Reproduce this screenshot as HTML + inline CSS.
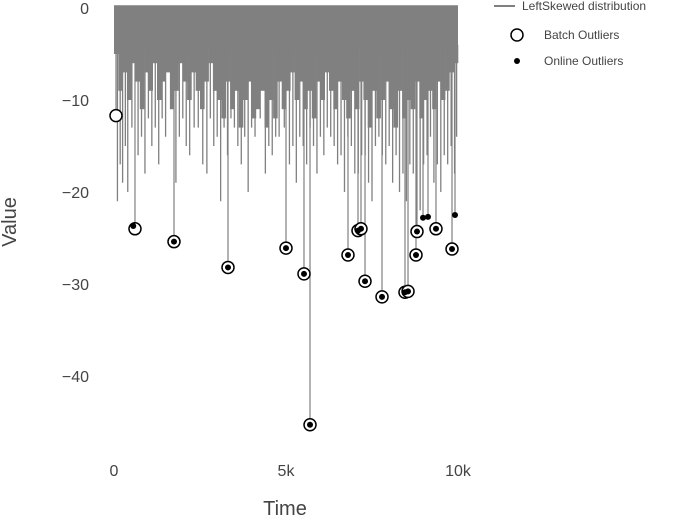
<!DOCTYPE html>
<html><head><meta charset="utf-8"><style>
body{margin:0;background:#fff;font-family:"Liberation Sans",sans-serif}
svg text{font-family:"Liberation Sans",sans-serif;fill:#444}
</style></head><body>
<svg id="chart" width="685" height="516" viewBox="0 0 685 516" xmlns="http://www.w3.org/2000/svg">
<g id="series"></g>
<g id="axes"></g>
<g id="legend"></g>
</svg>
<script>
// data
const xTicks=[0,5000,10000];
const xTickLabels=["0","5k","10k"];
const yTicks=[0,-10,-20,-30,-40];
const yTickLabels=["0","−10","−20","−30","−40"];
// dense band depth per 125-step bin (approx)
const bandDepth=[-5,-9,-7,-10,-6,-8,-11,-7,-9,-6,-10,-8,-7,-11,-9,-6,-8,-10,-7,-9,-11,-8,-6,-9,-10,-12,-8,-11,-9,-13,-10,-8,-12,-11,-9,-13,-10,-12,-8,-11,-9,-7,-10,-8,-11,-9,-12,-8,-10,-7,-9,-11,-8,-10,-12,-9,-11,-8,-10,-13,-9,-12,-10,-8,-11,-13,-9,-12,-10,-11,-8,-12,-10,-9,-11,-8,-10,-9,-7,-6];
// spike lines (time, value)
const spikeT=[100,180,250,330,400,520,700,800,900,1000,1100,1200,1300,1400,1500,1650,1800,1900,2000,2100,2200,2330,2450,2580,2700,2800,2900,3000,3100,3200,3300,3400,3500,3600,3700,3800,3900,4000,4100,4250,4400,4500,4600,4700,4800,4950,5100,5200,5300,5400,5500,5600,5700,5800,5900,6000,6100,6200,6300,6400,6500,6600,6700,6800,6900,7000,7100,7200,7300,7400,7500,7600,7700,7800,7900,8000,8100,8200,8300,8400,8500,8600,8700,8800,8900,9000,9100,9200,9300,9400,9500,9600,9700,9800,9900,9960];
const spikeV=[-21,-17,-19,-15,-20,-13,-16,-14,-18,-12,-15,-13,-17,-12,-14,-11,-19,-14,-12,-15,-16,-13,-13,-17,-18,-12,-15,-14,-21,-13,-16,-12,-13,-15,-17,-14,-20,-13,-14,-12,-18,-15,-16,-14,-14,-13,-17,-15,-19,-14,-15,-17,-13,-15,-18,-14,-16,-13,-14,-15,-17,-16,-20,-14,-15,-18,-18,-16,-16,-19,-21,-15,-14,-16,-17,-15,-19,-16,-20,-18,-21,-17,-18,-15,-22,-17,-16,-14,-19,-17,-20,-16,-17,-15,-18,-14];
const batchT=[58,610,1744,3314,5000,5523,5698,6802,7093,7180,7297,7791,8459,8547,8808,8779,9360,9826];
const batchV=[-11.7,-24.0,-25.4,-28.2,-26.1,-28.9,-45.3,-26.85,-24.2,-24.0,-29.7,-31.4,-30.9,-30.8,-24.3,-26.85,-24.0,-26.2];
const onlineT=[560,1744,3314,5000,5523,5698,6802,7093,7180,7297,7791,8459,8547,8808,8779,9360,9826,8983,9128,9913];
const onlineV=[-23.7,-25.4,-28.2,-26.1,-28.9,-45.3,-26.85,-24.2,-24.0,-29.7,-31.4,-30.9,-30.8,-24.3,-26.85,-24.0,-26.2,-22.8,-22.7,-22.5];

const NS="http://www.w3.org/2000/svg";
const X=t=>114+t*0.0344;
const Y=v=>8-v*9.2;
function mk(tag,attrs,parent,txt){const e=document.createElementNS(NS,tag);for(const k in attrs)e.setAttribute(k,attrs[k]);if(txt!==undefined)e.textContent=txt;parent.appendChild(e);return e;}
const S=document.getElementById('series'),A=document.getElementById('axes'),L=document.getElementById('legend');
const grey="#808080";
const coreRect=mk('rect',{x:X(0),y:Y(0.3),width:X(10000)-X(0),height:Y(-4.5)-Y(0.3),fill:grey},S);


bandDepth.forEach((v,i)=>{let r=mk('rect',{x:X(i*125),y:Y(-4),width:X(125)-X(0)+0.3,height:Y(v)-Y(-4),fill:grey},S);

});
spikeT.forEach((t,i)=>{let l=mk('line',{x1:X(t),x2:X(t),y1:Y(0),y2:Y(spikeV[i]),stroke:grey,'stroke-width':1.3},S);

});
batchT.forEach((t,i)=>{let l=mk('line',{x1:X(t),x2:X(t),y1:Y(-5),y2:Y(batchV[i]),stroke:grey,'stroke-width':1.2},S);

});
onlineT.forEach((t,i)=>{if(i>=17){let l=mk('line',{x1:X(t),x2:X(t),y1:Y(-5),y2:Y(onlineV[i]),stroke:grey,'stroke-width':1.2},S);

}});
batchT.forEach((t,i)=>{let c=mk('circle',{cx:X(t),cy:Y(batchV[i]),r:6,fill:'#fff',stroke:'#000','stroke-width':1.5},S);

});
onlineT.forEach((t,i)=>{let c=mk('circle',{cx:X(t),cy:Y(onlineV[i]),r:3,fill:'#000'},S);

});
// axes
xTicks.forEach((t,i)=>{let e=mk('text',{x:X(t),y:476,'text-anchor':'middle','font-size':16},A,xTickLabels[i]);

});
yTicks.forEach((v,i)=>{let e=mk('text',{x:89,y:Y(v)+6,'text-anchor':'end','font-size':16},A,yTickLabels[i]);

});
let xt=mk('text',{x:285,y:515,'text-anchor':'middle','font-size':20},A,"Time");


let yt=mk('text',{x:0,y:0,'text-anchor':'middle','font-size':20,transform:'translate(16,222) rotate(-90)'},A,"Value");


// legend
let g1=mk('g',{},L);
mk('line',{x1:494,x2:515,y1:6,y2:6,stroke:grey,'stroke-width':2},g1);
mk('text',{x:522,y:10,'font-size':12},g1,"LeftSkewed distribution");
let g2=mk('g',{},L);
mk('circle',{cx:517,cy:35,r:6,fill:'#fff',stroke:'#000','stroke-width':1.5},g2);
mk('text',{x:544,y:39,'font-size':12},g2,"Batch Outliers");
let g3=mk('g',{},L);
mk('circle',{cx:517,cy:61,r:3,fill:'#000'},g3);
mk('text',{x:544,y:65,'font-size':12},g3,"Online Outliers");
</script>
</body></html>
